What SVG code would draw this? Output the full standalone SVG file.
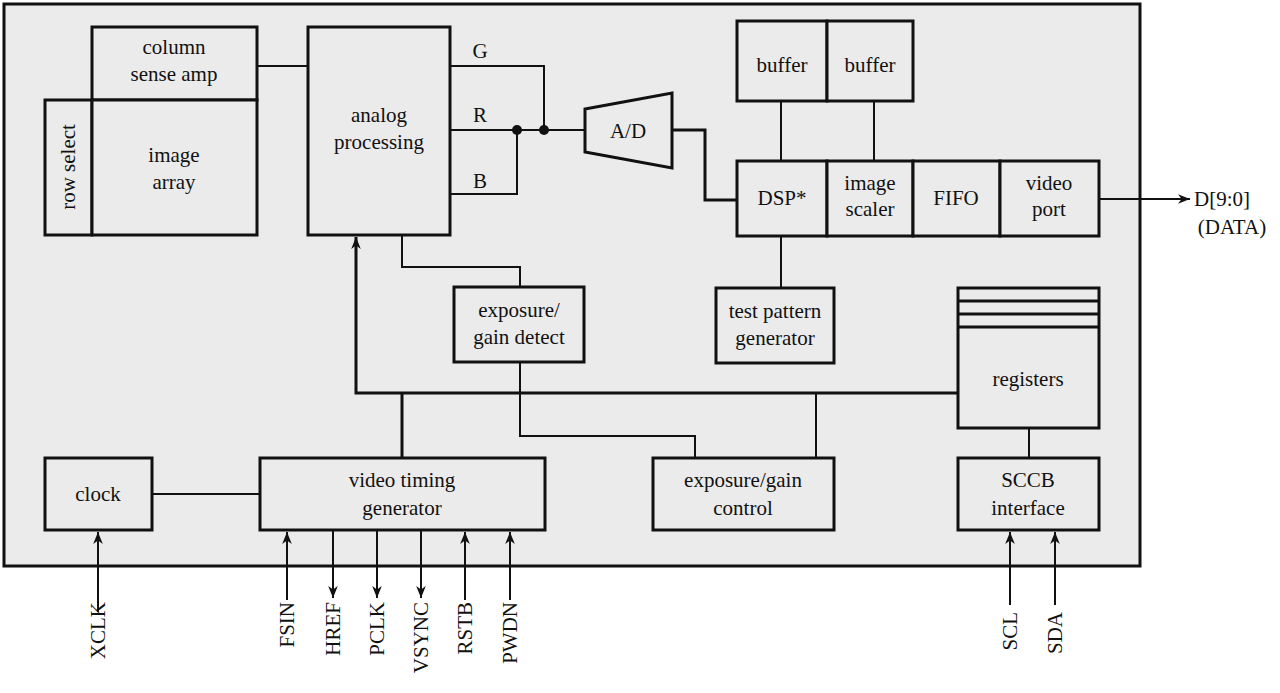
<svg xmlns="http://www.w3.org/2000/svg" width="1280" height="693" viewBox="0 0 1280 693">
<style>
.b{fill:#ebebeb;stroke:#111;stroke-width:3}
.l{fill:none;stroke:#111;stroke-width:2}
.t{fill:none;stroke:#111;stroke-width:3}
text{font-family:'Liberation Serif','Times New Roman','DejaVu Serif',serif;font-size:21px;fill:#111;text-anchor:middle}
.p{text-anchor:end}
</style>
<defs><marker id="a" viewBox="0 0 10 10" refX="10" refY="5" markerWidth="12" markerHeight="12" markerUnits="userSpaceOnUse" orient="auto"><path d="M0,1 L10,5 L0,9 L3,5z" fill="#111"/></marker></defs>
<rect x="0" y="0" width="1280" height="693" fill="#fff"/>
<rect id="chip" x="4" y="4" width="1136" height="562" class="b"/>
<g id="connectors">
<path class="l" d="M257,66H308"/>
<path class="l" d="M450,66H544V130M450,130H585M450,194H517V130"/>
<circle cx="517" cy="130" r="5" fill="#111"/><circle cx="544" cy="130" r="5" fill="#111"/>
<path class="t" d="M672,130H705V200H737"/>
<path class="l" d="M781,101V161M874,101V161M781,236V288"/>
<path class="l" d="M1099,199H1190" marker-end="url(#a)"/>
<path class="l" d="M402,235V267H520V287M520,362V436H695V458"/>
<path class="t" d="M958,393H356V237" marker-end="url(#a)"/>
<path class="t" d="M402,393V458"/>
<path class="l" d="M816,393V458M1029,428V458M152,494H260"/>
<path class="l" d="M98,612V532" marker-end="url(#a)"/>
<path class="l" d="M287,600V532" marker-end="url(#a)"/>
<path class="l" d="M333,530V598" marker-end="url(#a)"/>
<path class="l" d="M377,530V598" marker-end="url(#a)"/>
<path class="l" d="M421,530V598" marker-end="url(#a)"/>
<path class="l" d="M465,600V532" marker-end="url(#a)"/>
<path class="l" d="M510,600V532" marker-end="url(#a)"/>
<path class="l" d="M1010,605V532" marker-end="url(#a)"/>
<path class="l" d="M1055,605V532" marker-end="url(#a)"/>
</g>
<g id="colamp"><rect class="b" x="92" y="27" width="165" height="73"/><text x="174" y="54">column</text><text x="174" y="81">sense amp</text></g>
<g id="rowsel"><rect class="b" x="45" y="100" width="47" height="135"/><text transform="translate(75,167) rotate(-90)">row select</text></g>
<g id="array"><rect class="b" x="92" y="100" width="165" height="135"/><text x="174" y="162">image</text><text x="174" y="189">array</text></g>
<g id="analog"><rect class="b" x="308" y="27" width="142" height="208"/><text x="379" y="122">analog</text><text x="379" y="149">processing</text></g>
<text x="480" y="58">G</text><text x="480" y="122">R</text><text x="480" y="188">B</text>
<g id="ad"><path class="b" d="M585,109L672,93V168L585,152Z"/><text x="628" y="138">A/D</text></g>
<g id="buf1"><rect class="b" x="737" y="21" width="90" height="80"/><text x="782" y="72">buffer</text></g>
<g id="buf2"><rect class="b" x="827" y="21" width="86" height="80"/><text x="870" y="72">buffer</text></g>
<g id="dsp"><rect class="b" x="737" y="161" width="90" height="75"/><text x="782" y="205">DSP*</text></g>
<g id="scaler"><rect class="b" x="827" y="161" width="86" height="75"/><text x="870" y="190">image</text><text x="870" y="216">scaler</text></g>
<g id="fifo"><rect class="b" x="913" y="161" width="87" height="75"/><text x="956" y="205">FIFO</text></g>
<g id="vport"><rect class="b" x="1000" y="161" width="99" height="75"/><text x="1049" y="190">video</text><text x="1049" y="216">port</text></g>
<text x="1222" y="206">D[9:0]</text><text x="1232" y="234">(DATA)</text>
<g id="tpg"><rect class="b" x="716" y="288" width="118" height="75"/><text x="775" y="318">test pattern</text><text x="775" y="345">generator</text></g>
<g id="regs"><rect class="b" x="958" y="288" width="141" height="140"/><path class="t" d="M958,301H1099M958,314H1099M958,327H1099"/><text x="1028" y="386">registers</text></g>
<g id="egd"><rect class="b" x="454" y="287" width="130" height="75"/><text x="519" y="317">exposure/</text><text x="519" y="344">gain detect</text></g>
<g id="clock"><rect class="b" x="45" y="458" width="107" height="72"/><text x="98" y="501">clock</text></g>
<g id="vtg"><rect class="b" x="260" y="458" width="285" height="72"/><text x="402" y="487">video timing</text><text x="402" y="515">generator</text></g>
<g id="egc"><rect class="b" x="653" y="458" width="181" height="72"/><text x="743" y="487">exposure/gain</text><text x="743" y="515">control</text></g>
<g id="sccb"><rect class="b" x="958" y="458" width="141" height="72"/><text x="1028" y="487">SCCB</text><text x="1028" y="515">interface</text></g>
<g id="pins">
<text class="p" transform="translate(105,602) rotate(-90)">XCLK</text>
<text class="p" transform="translate(294,602) rotate(-90)">FSIN</text>
<text class="p" transform="translate(340,602) rotate(-90)">HREF</text>
<text class="p" transform="translate(384,602) rotate(-90)">PCLK</text>
<text class="p" transform="translate(428,602) rotate(-90)">VSYNC</text>
<text class="p" transform="translate(472,602) rotate(-90)">RSTB</text>
<text class="p" transform="translate(517,602) rotate(-90)">PWDN</text>
<text class="p" transform="translate(1017,612) rotate(-90)">SCL</text>
<text class="p" transform="translate(1062,612) rotate(-90)">SDA</text>
</g>
</svg>
